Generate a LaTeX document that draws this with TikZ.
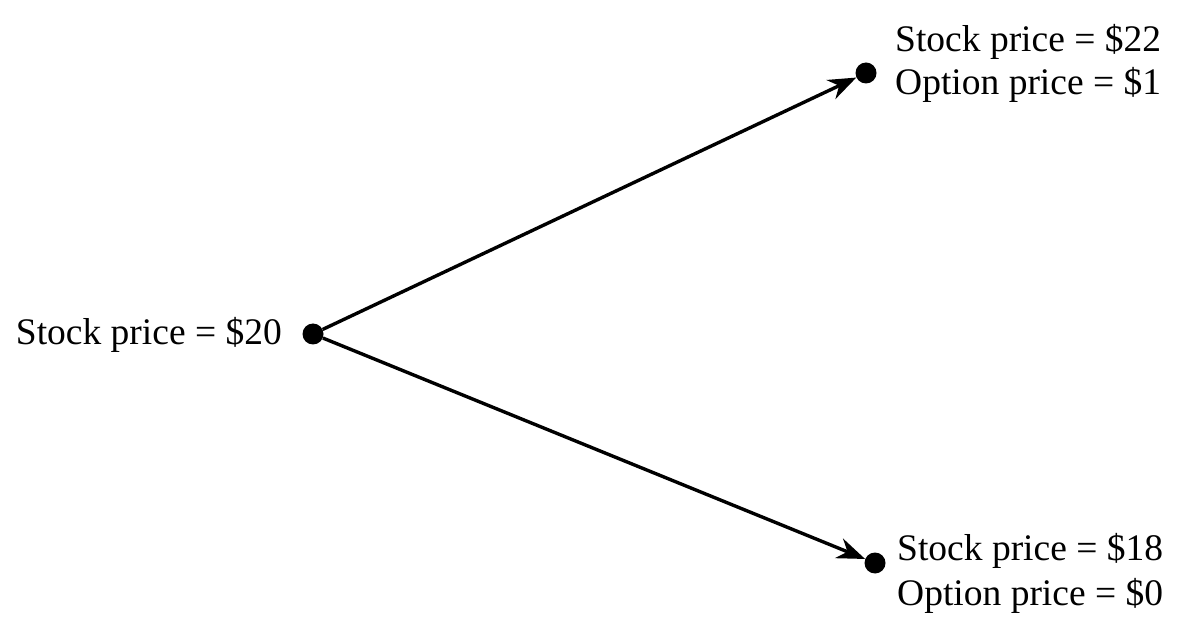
\documentclass[tikz,border=0pt]{standalone}
\usepackage{fontspec}
\setmainfont{Liberation Serif}
\usetikzlibrary{arrows.meta}
\begin{document}
\begin{tikzpicture}[x=1pt,y=1pt,
  dot/.style={circle,fill=black,inner sep=0pt,minimum size=21pt},
  lbl/.style={font=\fontsize{37.5}{40}\selectfont,inner sep=0pt},
  branch/.style={line width=3.4pt,-{Stealth[length=28pt,width=21pt,inset=9pt]}}]
\useasboundingbox (0,0) rectangle (1200,630);
\node[dot] (A) at (313,296) {};
\node[dot] (B) at (866,557) {};
\node[dot] (C) at (875,67) {};
\node[lbl,anchor=base east] (la) at (282,285) {Stock price = \$20};
\node[lbl,anchor=base west] (lb1) at (895,578) {Stock price = \$22};
\node[lbl,anchor=base west] (lb2) at (895,535) {Option price = \$1};
\node[lbl,anchor=base west] (lc1) at (897,70) {Stock price = \$18};
\node[lbl,anchor=base west] (lc2) at (897,25) {Option price = \$0};
\draw[branch] (A) -- (B);
\draw[branch] (A) -- (C);
\end{tikzpicture}
\end{document}
